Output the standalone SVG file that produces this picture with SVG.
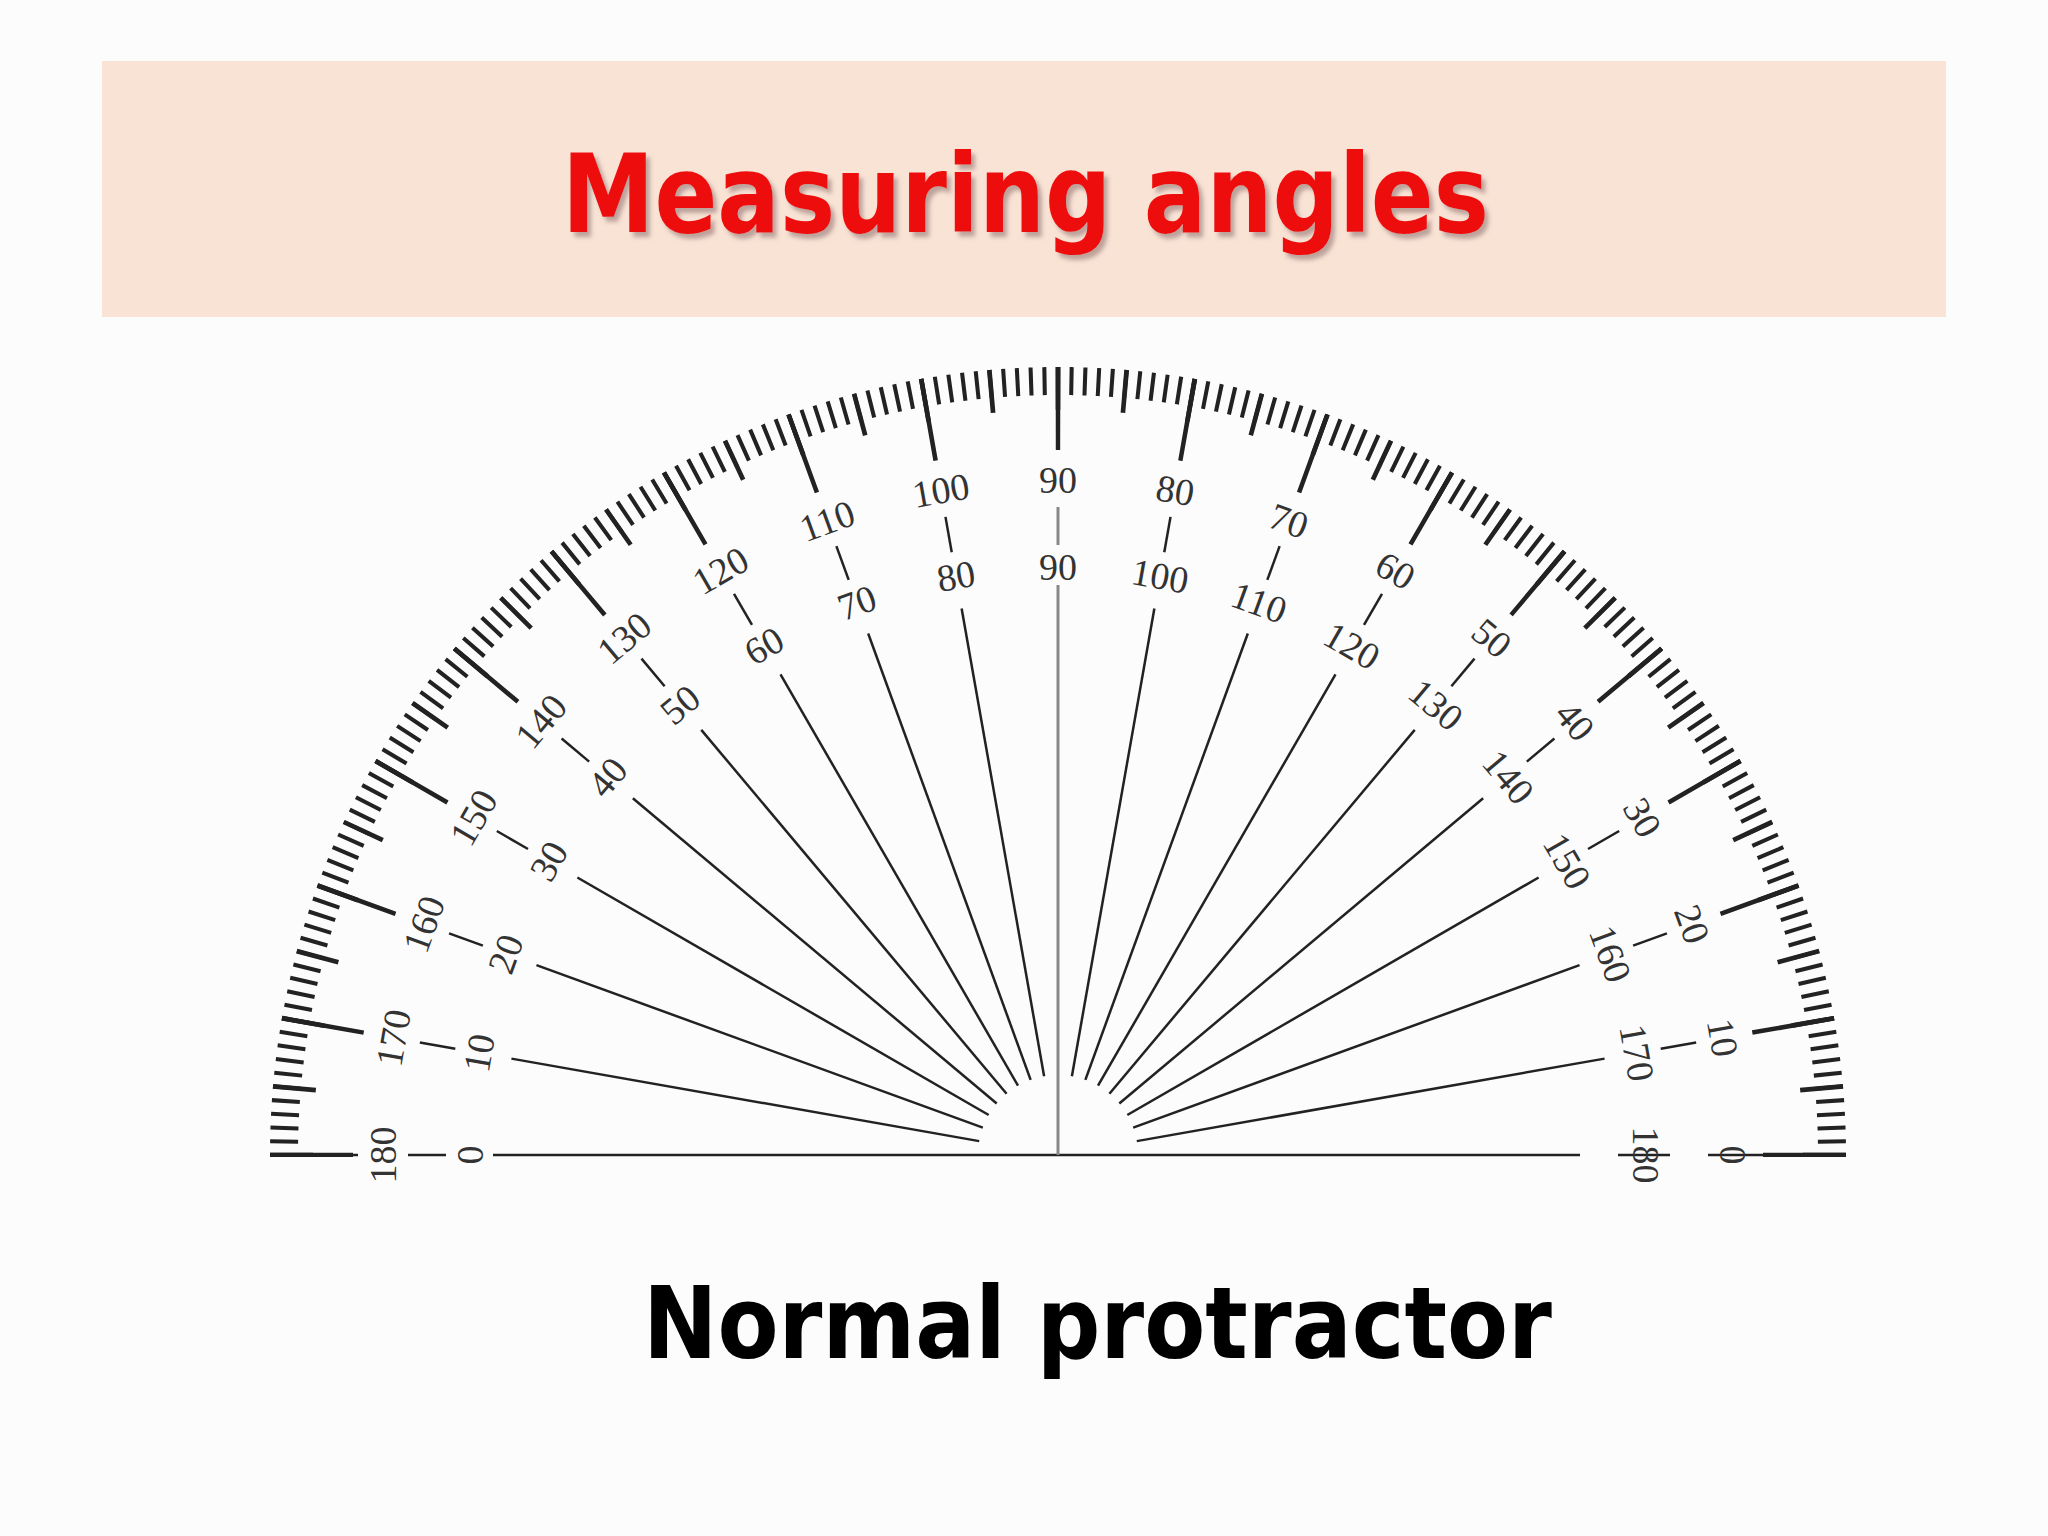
<svg xmlns="http://www.w3.org/2000/svg" width="2048" height="1536" viewBox="0 0 2048 1536">
<style>
.t{font-family:"Liberation Serif",serif;font-size:38px;fill:#333;text-anchor:middle;dominant-baseline:central}
.r{stroke:#222;stroke-width:2.5}
.k{fill:none;stroke:#222}
.h{font-family:'Comic Sans MS','DejaVu Sans',sans-serif;font-weight:bold}
</style>
<defs>
<filter id="sh" x="-5%" y="-20%" width="110%" height="140%"><feDropShadow dx="4" dy="5" stdDeviation="2" flood-color="#806060" flood-opacity="0.5"/></filter>
<clipPath id="top"><rect x="-900" y="-900" width="1800" height="902"/></clipPath>
</defs>
<rect width="2048" height="1536" fill="#fdfcfc"/>
<g id="header"><rect x="102" y="61" width="1844" height="256" fill="#f9e3d5"/>
<text class="h" x="562" y="232" font-size="108" fill="#ee1111" filter="url(#sh)" textLength="927" lengthAdjust="spacingAndGlyphs">Measuring angles</text></g>
<g id="protractor" transform="translate(1058,1155)">
<g clip-path="url(#top)">
<circle class="k" r="774" pathLength="360" stroke-width="28" stroke-dasharray="0.3 0.7" stroke-dashoffset="0.15"/>
<circle class="k" r="766.5" pathLength="360" stroke-width="43" stroke-dasharray="0.35 4.65" stroke-dashoffset="0.175"/>
<circle class="k" r="746.5" pathLength="360" stroke-width="83" stroke-dasharray="0.35 9.65" stroke-dashoffset="0.175"/>
</g>
<g id="baseline" class="r" stroke-width="3">
<line x1="-786" y1="0" x2="-700" y2="0"/><line x1="-650" y1="0" x2="-612" y2="0"/><line x1="-565" y1="0" x2="522" y2="0"/><line x1="560" y1="0" x2="612" y2="0"/><line x1="650" y1="0" x2="786" y2="0"/>
</g>
<line x1="0" y1="0" x2="0" y2="-570" stroke="#888" stroke-width="3"/>
<line x1="0" y1="-610" x2="0" y2="-648" stroke="#888" stroke-width="3"/>
<g id="rays" class="r">
<line x1="0" y1="-80" x2="0" y2="-555" transform="rotate(80)"/>
<line x1="0" y1="-80" x2="0" y2="-555" transform="rotate(70)"/>
<line x1="0" y1="-80" x2="0" y2="-555" transform="rotate(60)"/>
<line x1="0" y1="-80" x2="0" y2="-555" transform="rotate(50)"/>
<line x1="0" y1="-80" x2="0" y2="-555" transform="rotate(40)"/>
<line x1="0" y1="-80" x2="0" y2="-555" transform="rotate(30)"/>
<line x1="0" y1="-80" x2="0" y2="-555" transform="rotate(20)"/>
<line x1="0" y1="-80" x2="0" y2="-555" transform="rotate(10)"/>
<line x1="0" y1="-80" x2="0" y2="-555" transform="rotate(-10)"/>
<line x1="0" y1="-80" x2="0" y2="-555" transform="rotate(-20)"/>
<line x1="0" y1="-80" x2="0" y2="-555" transform="rotate(-30)"/>
<line x1="0" y1="-80" x2="0" y2="-555" transform="rotate(-40)"/>
<line x1="0" y1="-80" x2="0" y2="-555" transform="rotate(-50)"/>
<line x1="0" y1="-80" x2="0" y2="-555" transform="rotate(-60)"/>
<line x1="0" y1="-80" x2="0" y2="-555" transform="rotate(-70)"/>
<line x1="0" y1="-80" x2="0" y2="-555" transform="rotate(-80)"/>
</g>
<g id="mids" class="r">
<line x1="0" y1="-612" x2="0" y2="-648" transform="rotate(80)"/><line x1="0" y1="-612" x2="0" y2="-648" transform="rotate(70)"/><line x1="0" y1="-612" x2="0" y2="-648" transform="rotate(60)"/><line x1="0" y1="-612" x2="0" y2="-648" transform="rotate(50)"/><line x1="0" y1="-612" x2="0" y2="-648" transform="rotate(40)"/><line x1="0" y1="-612" x2="0" y2="-648" transform="rotate(30)"/><line x1="0" y1="-612" x2="0" y2="-648" transform="rotate(20)"/><line x1="0" y1="-612" x2="0" y2="-648" transform="rotate(10)"/><line x1="0" y1="-612" x2="0" y2="-648" transform="rotate(-10)"/><line x1="0" y1="-612" x2="0" y2="-648" transform="rotate(-20)"/><line x1="0" y1="-612" x2="0" y2="-648" transform="rotate(-30)"/><line x1="0" y1="-612" x2="0" y2="-648" transform="rotate(-40)"/><line x1="0" y1="-612" x2="0" y2="-648" transform="rotate(-50)"/><line x1="0" y1="-612" x2="0" y2="-648" transform="rotate(-60)"/><line x1="0" y1="-612" x2="0" y2="-648" transform="rotate(-70)"/><line x1="0" y1="-612" x2="0" y2="-648" transform="rotate(-80)"/>
</g>
<g id="labels">
<text class="t" transform="rotate(90) translate(0,-675)">0</text><text class="t" transform="rotate(90) translate(0,-588)">180</text>
<text class="t" transform="rotate(80) translate(0,-675)">10</text><text class="t" transform="rotate(80) translate(0,-588)">170</text>
<text class="t" transform="rotate(70) translate(0,-675)">20</text><text class="t" transform="rotate(70) translate(0,-588)">160</text>
<text class="t" transform="rotate(60) translate(0,-675)">30</text><text class="t" transform="rotate(60) translate(0,-588)">150</text>
<text class="t" transform="rotate(50) translate(0,-675)">40</text><text class="t" transform="rotate(50) translate(0,-588)">140</text>
<text class="t" transform="rotate(40) translate(0,-675)">50</text><text class="t" transform="rotate(40) translate(0,-588)">130</text>
<text class="t" transform="rotate(30) translate(0,-675)">60</text><text class="t" transform="rotate(30) translate(0,-588)">120</text>
<text class="t" transform="rotate(20) translate(0,-675)">70</text><text class="t" transform="rotate(20) translate(0,-588)">110</text>
<text class="t" transform="rotate(10) translate(0,-675)">80</text><text class="t" transform="rotate(10) translate(0,-588)">100</text>
<text class="t" transform="translate(0,-675)">90</text><text class="t" transform="translate(0,-588)">90</text>
<text class="t" transform="rotate(-10) translate(0,-675)">100</text><text class="t" transform="rotate(-10) translate(0,-588)">80</text>
<text class="t" transform="rotate(-20) translate(0,-675)">110</text><text class="t" transform="rotate(-20) translate(0,-588)">70</text>
<text class="t" transform="rotate(-30) translate(0,-675)">120</text><text class="t" transform="rotate(-30) translate(0,-588)">60</text>
<text class="t" transform="rotate(-40) translate(0,-675)">130</text><text class="t" transform="rotate(-40) translate(0,-588)">50</text>
<text class="t" transform="rotate(-50) translate(0,-675)">140</text><text class="t" transform="rotate(-50) translate(0,-588)">40</text>
<text class="t" transform="rotate(-60) translate(0,-675)">150</text><text class="t" transform="rotate(-60) translate(0,-588)">30</text>
<text class="t" transform="rotate(-70) translate(0,-675)">160</text><text class="t" transform="rotate(-70) translate(0,-588)">20</text>
<text class="t" transform="rotate(-80) translate(0,-675)">170</text><text class="t" transform="rotate(-80) translate(0,-588)">10</text>
<text class="t" transform="rotate(-90) translate(0,-675)">180</text><text class="t" transform="rotate(-90) translate(0,-588)">0</text>
</g>
</g>
<g id="caption"><text class="h" x="643" y="1358" font-size="100" fill="#000" textLength="909" lengthAdjust="spacingAndGlyphs">Normal protractor</text></g>
</svg>
